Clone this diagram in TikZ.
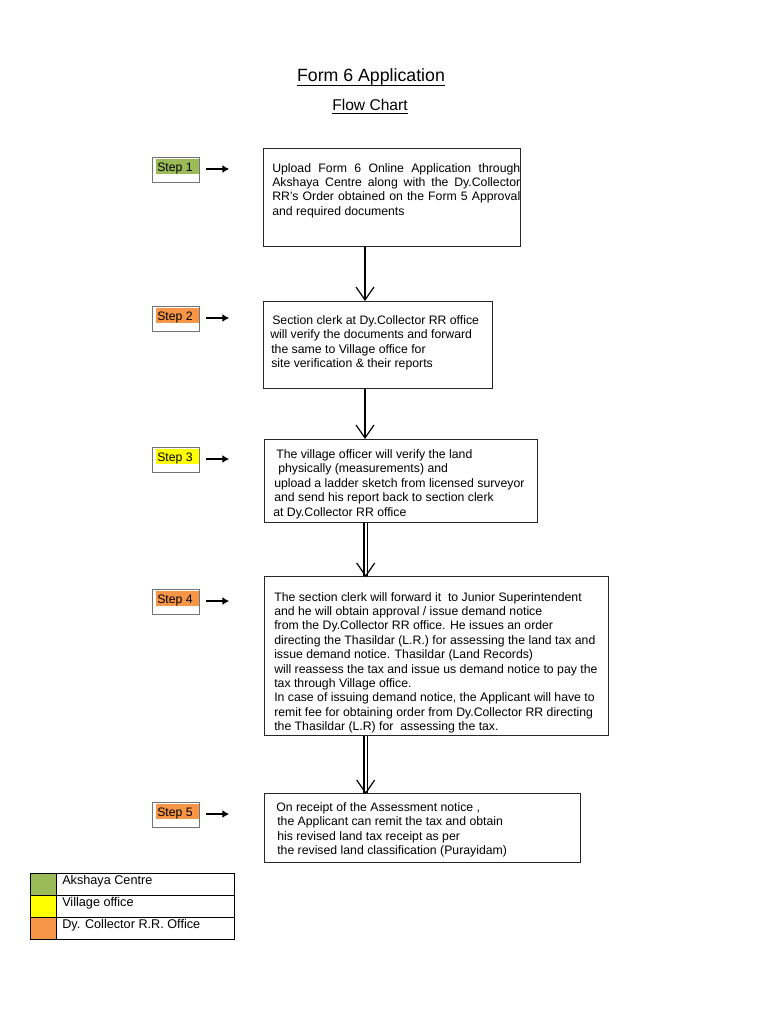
\documentclass[tikz,border=0pt]{standalone}
\usepackage{fontspec}
\setmainfont{Liberation Sans}
\usetikzlibrary{arrows.meta,calc}
\definecolor{akgreen}{RGB}{155,187,89}
\definecolor{dyorange}{RGB}{247,150,70}
\definecolor{vilyellow}{RGB}{255,255,0}
\newcommand\tline[4]{\node[textline] (#1) at (#2,#3) {#4};}
\newcommand\jline[4]{\node[textline] (#1) at (#2,#3) {\makebox[186pt][s]{#4}};}
\newcommand\mkbox[5]{\node[flowbox,minimum width=#4*0.75pt,minimum height=#5*0.75pt] (#1) at (#2,#3) {};}
\newcommand\mkstep[4]{%
  \fill[#3] (156,#2+2) rectangle (199,#2+16.5);
  \node[stepframe] (#1) at (152,#2) {};
  \node[textline] (#1t) at (157,#2+14) {#4};
  \draw[steparrow] ($(#1.north east)+(6,12)$) -- ($(#1.north east)+(29,12)$);}
\begin{document}
\begin{tikzpicture}[x=0.75pt,y=-0.75pt,
  flowbox/.style={draw=black!85,line width=0.8pt,anchor=north west,inner sep=0pt},
  textline/.style={anchor=base west,inner sep=0pt,font=\fontsize{9.2}{11}\selectfont},
  stepframe/.style={draw=black!55,line width=0.8pt,anchor=north west,inner sep=0pt,minimum width=35.25pt,minimum height=18.75pt},
  steparrow/.style={line width=2pt,-{Latex[length=5pt,width=6pt]}},
  conn/.style={line width=1.1pt,-{Straight Barb[length=9.75pt,width=13.5pt,line width=0.9pt]}},
  dline/.style={line width=0.8pt},
  vhead/.style={line width=0.9pt},
  legcell/.style={draw=black,line width=0.7pt,anchor=north west,inner sep=0pt,minimum height=16.5pt},
  legtext/.style={anchor=base west,inner sep=0pt,font=\fontsize{9.5}{11}\selectfont}
]
\useasboundingbox (0,0) rectangle (768,1024);
\fill[white] (0,0) rectangle (768,1024);

% titles
\node[anchor=base,inner sep=0pt,font=\fontsize{13.3}{15}\selectfont] (title) at (371,82) {Form 6 Application};
\draw[line width=0.7pt] ($(title.base west)+(0,3.5)$) -- ($(title.base east)+(0,3.5)$);
\node[anchor=base,inner sep=0pt,font=\fontsize{11.7}{14}\selectfont] (sub) at (370,110) {Flow Chart};
\draw[line width=0.7pt] ($(sub.base west)+(0,3)$) -- ($(sub.base east)+(0,3)$);

% flow boxes
\mkbox{b1}{263}{148}{257}{98}
\mkbox{b2}{263}{301}{229}{87}
\mkbox{b3}{264}{439}{273}{83}
\mkbox{b4}{264}{576}{344}{159}
\mkbox{b5}{264}{793}{316}{69}

% box 1 text
\jline{b1l1}{272}{172}{Upload Form 6 Online Application through}
\jline{b1l2}{272}{186.4}{Akshaya Centre along with the Dy.Collector}
\jline{b1l3}{272}{200.8}{RR's Order obtained on the Form 5 Approval}
\tline{b1l4}{272}{215.2}{and required documents}

% box 2 text
\tline{b2l1}{272}{324.5}{Section clerk at Dy.Collector RR office}
\tline{b2l2}{270}{338.9}{will verify the documents and forward}
\tline{b2l3}{271}{353.3}{the same to Village office for}
\tline{b2l4}{271}{367.7}{site verification \& their reports}

% box 3 text
\tline{b3l1}{276}{458.5}{The village officer will verify the land}
\tline{b3l2}{278}{472.9}{physically (measurements) and}
\tline{b3l3}{274}{487.3}{upload a ladder sketch from licensed surveyor}
\tline{b3l4}{274}{501.7}{and send his report back to section clerk}
\tline{b3l5}{273}{516.1}{at Dy.Collector RR office}

% box 4 text
\tline{b4l1}{274}{601}{The section clerk will forward it\ \ to Junior Superintendent}
\tline{b4l2}{274}{615.4}{and he will obtain approval / issue demand notice}
\tline{b4l3}{274}{629.8}{from the Dy.Collector RR office. He issues an order}
\tline{b4l4}{274}{644.2}{directing the Thasildar (L.R.) for assessing the land tax and}
\tline{b4l5}{274}{658.6}{issue demand notice. Thasildar (Land Records)}
\tline{b4l6}{274}{673}{will reassess the tax and issue us demand notice to pay the}
\tline{b4l7}{274}{687.4}{tax through Village office.}
\tline{b4l8}{274}{701.8}{In case of issuing demand notice, the Applicant will have to}
\tline{b4l9}{274}{716.2}{remit fee for obtaining order from Dy.Collector RR directing}
\tline{b4l10}{274}{730.6}{the Thasildar (L.R) for\ \ assessing the tax.}

% box 5 text
\tline{b5l1}{276}{811.5}{On receipt of the Assessment notice ,}
\tline{b5l2}{277}{825.9}{the Applicant can remit the tax and obtain}
\tline{b5l3}{277}{840.3}{his revised land tax receipt as per}
\tline{b5l4}{277}{854.7}{the revised land classification (Purayidam)}

% step labels
\mkstep{s1}{157}{akgreen}{Step 1}
\mkstep{s2}{306}{dyorange}{Step 2}
\mkstep{s3}{447}{vilyellow}{Step 3}
\mkstep{s4}{589}{dyorange}{Step 4}
\mkstep{s5}{802}{dyorange}{Step 5}

% connectors
\coordinate (cx) at (365,0);
\coordinate (cxa) at (364,0);
\coordinate (cxb) at (367.5,0);
\coordinate (cxm) at (365.7,0);
\draw[conn] (b1.south -| cx) -- (b2.north -| cx);
\draw[conn] (b2.south -| cx) -- (b3.north -| cx);
\draw[dline] (b3.south -| cxa) -- (b4.north -| cxa);
\draw[dline] (b3.south -| cxb) -- (b4.north -| cxb);
\coordinate (t4) at (b4.north -| cxm);
\draw[vhead] ($(t4)+(-9,-13)$) -- (t4) -- ($(t4)+(9,-13)$);
\draw[dline] (b4.south -| cxa) -- (b5.north -| cxa);
\draw[dline] (b4.south -| cxb) -- (b5.north -| cxb);
\coordinate (t5) at (b5.north -| cxm);
\draw[vhead] ($(t5)+(-9,-13)$) -- (t5) -- ($(t5)+(9,-13)$);

% legend
\node[legcell,fill=akgreen,minimum width=19.5pt] (g1) at (30,873) {};
\node[legcell,minimum width=133.5pt] (r1) at (56,873) {};
\node[legcell,fill=vilyellow,minimum width=19.5pt] (g2) at (30,895) {};
\node[legcell,minimum width=133.5pt] (r2) at (56,895) {};
\node[legcell,fill=dyorange,minimum width=19.5pt] (g3) at (30,917) {};
\node[legcell,minimum width=133.5pt] (r3) at (56,917) {};
\node[legtext] (lt1) at (62,884.5) {Akshaya Centre};
\node[legtext] (lt2) at (62,906.5) {Village office};
\node[legtext] (lt3) at (62,928.5) {Dy. Collector R.R. Office};
\end{tikzpicture}
\end{document}
